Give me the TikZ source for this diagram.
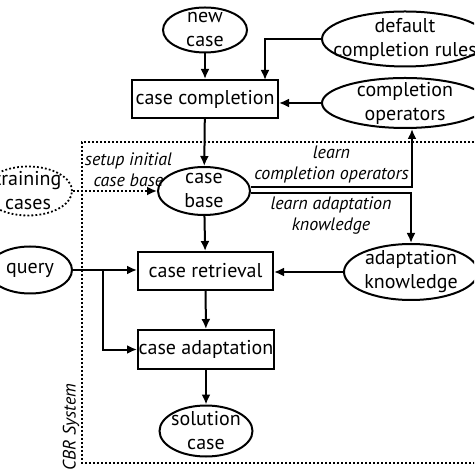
\documentclass[tikz,border=0pt]{standalone}
\usepackage{fontspec}
\setmainfont{PT Sans}
\usetikzlibrary{shapes.geometric,arrows.meta}
\begin{document}
\begin{tikzpicture}[x=0.5pt,y=-0.5pt,
    every node/.style={font=\fontsize{10}{12}\selectfont},
    proc/.style={draw, line width=1pt, inner sep=0pt, text centered},
    store/.style={draw, ellipse, line width=1pt, inner xsep=-20pt, inner ysep=-10pt, align=center},
    link/.style={line width=1pt, -{Latex[length=5pt,width=4.5pt]}},
    dotline/.style={line width=0.9pt, dash pattern=on 0.9pt off 1.1pt},
    lbl/.style={font=\fontsize{9}{10.5}\selectfont\itshape, align=center, inner sep=1.5pt}]
  \path[use as bounding box, clip] (0,0) rectangle (474,474);

  \node[store, minimum width=42pt, minimum height=22.5pt] (newcase) at (205,30) {new\\case};
  \node[store, minimum width=83pt, minimum height=27.5pt] (rules) at (405,39) {default\\completion rules};
  \node[proc, minimum width=73pt, minimum height=19pt] (compl) at (205,99) {case completion};
  \node[store, minimum width=83pt, minimum height=25pt] (ops) at (405,103) {completion\\operators};
  \node[store, minimum width=46pt, minimum height=24pt] (casebase) at (204,191) {case\\base};
  \node[store, dotline, minimum width=44pt, minimum height=24.5pt] (training) at (28,191) {training\\cases};
  \node[store, minimum width=42pt, minimum height=23.5pt] (query) at (30,270) {query};
  \node[proc, minimum width=67.5pt, minimum height=19pt] (retr) at (205.5,271) {case retrieval};
  \node[store, minimum width=67pt, minimum height=28pt] (adaptk) at (411,272) {adaptation\\knowledge};
  \node[proc, minimum width=68pt, minimum height=19.5pt] (adapt) at (206,349.5) {case adaptation};
  \node[store, minimum width=46.5pt, minimum height=25.5pt] (solution) at (206,431) {solution\\case};

  \draw[dotline] (490,142) -- (82,142) -- (82,463) -- (490,463);
  \node[lbl, rotate=90] (cbr) at (71,427) {CBR System};

  \coordinate (rulesin) at (265,80);
  \coordinate (qsplit) at (103,270);
  \draw[link] (newcase) -- (compl);
  \draw[link] (rules.west) -| (rulesin);
  \draw[link] (ops.west) -- (ops.west -| compl.east);
  \draw[link] (compl) -- (casebase);
  \draw[link, dotline] (training) -- (casebase) node[lbl, pos=0.66, above] {setup initial\\case base};
  \draw[link] ([yshift=2pt]casebase.east) -| ([xshift=3.5pt]ops.south)
    node[lbl, pos=0.25, above] {learn\\completion operators};
  \draw[link] ([yshift=-1pt]casebase.east) -| (adaptk.north)
    node[lbl, pos=0.25, below] {learn adaptation\\knowledge};
  \draw[link] (casebase) -- (retr);
  \draw[link] (adaptk.west) -- (adaptk.west -| retr.east);
  \draw[link] (query.east) -- (query.east -| retr.west);
  \draw[link] (qsplit) |- (adapt.west);
  \draw[link] (retr) -- (adapt);
  \draw[link] (adapt) -- (solution);
\end{tikzpicture}
\end{document}
